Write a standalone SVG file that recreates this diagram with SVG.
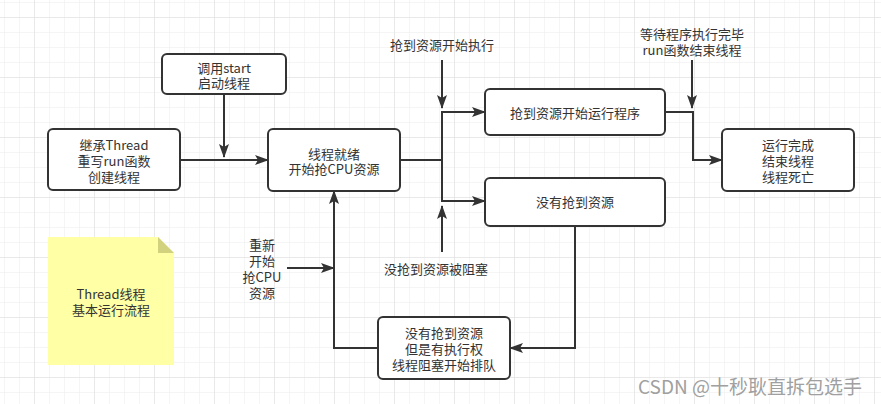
<svg xmlns="http://www.w3.org/2000/svg" width="881" height="404" viewBox="0 0 881 404">
  <defs>
    <pattern id="minor" x="4" y="2" width="15" height="15" patternUnits="userSpaceOnUse">
      <path d="M0,0 H15 M0,0 V15" stroke="#ececec" stroke-width="1" fill="none"/>
    </pattern>
    <pattern id="major" x="34" y="17" width="60" height="60" patternUnits="userSpaceOnUse">
      <path d="M0,0 H60 M0,0 V60" stroke="#dedede" stroke-width="1" fill="none"/>
    </pattern>
    <marker id="arr" viewBox="0 0 14 10" refX="13" refY="5" markerWidth="14" markerHeight="10" markerUnits="userSpaceOnUse" orient="auto">
      <path d="M0,0 L14,5 L0,10 L3,5 Z" fill="#333"/>
    </marker>
    <style>
      .box { fill: #fff; stroke: #333; stroke-width: 2; }
      .t { font-family: "Noto Sans CJK SC", "Liberation Sans", sans-serif; font-size: 13px; fill: #333; text-anchor: middle; dominant-baseline: central; }
      .c { fill: none; stroke: #333; stroke-width: 2; marker-end: url(#arr); }
    </style>
  </defs>
  <rect width="881" height="404" fill="#fff"/>
  <rect width="881" height="404" fill="url(#minor)"/>
  <rect width="881" height="404" fill="url(#major)"/>

  <g id="connectors">
    <path class="c" d="M180,160 L268,160"/>
    <path class="c" d="M224,94 L224,157"/>
    <path class="c" d="M400,160 L442,160 L442,112 L485,112"/>
    <path class="c" d="M442,160 L442,201 L485,201"/>
    <path class="c" d="M442,60 L442,108"/>
    <path class="c" d="M442,252 L442,206"/>
    <path class="c" d="M665,112 L693,112 L693,160 L722,160"/>
    <path class="c" d="M692,60 L692,108"/>
    <path class="c" d="M575,226 L575,348 L510,348"/>
    <path class="c" d="M378,348 L334,348 L334,191"/>
    <path class="c" d="M287,268 L334,268"/>
  </g>

  <g id="n-inherit">
    <rect class="box" x="48" y="129" width="132" height="61" rx="5"/>
    <text class="t" x="114" y="144">继承Thread</text>
    <text class="t" x="114" y="160">重写run函数</text>
    <text class="t" x="114" y="176">创建线程</text>
  </g>
  <g id="n-start">
    <rect class="box" x="162" y="54" width="124" height="40" rx="5"/>
    <text class="t" x="224" y="67">调用start</text>
    <text class="t" x="224" y="82">启动线程</text>
  </g>
  <g id="n-ready">
    <rect class="box" x="268" y="129" width="132" height="62" rx="5"/>
    <text class="t" x="334" y="153">线程就绪</text>
    <text class="t" x="334" y="168">开始抢CPU资源</text>
  </g>
  <g id="n-run">
    <rect class="box" x="485" y="89" width="180" height="46" rx="5"/>
    <text class="t" x="575" y="112">抢到资源开始运行程序</text>
  </g>
  <g id="n-miss">
    <rect class="box" x="485" y="178" width="180" height="48" rx="5"/>
    <text class="t" x="575" y="201">没有抢到资源</text>
  </g>
  <g id="n-dead">
    <rect class="box" x="722" y="129" width="132" height="62" rx="5"/>
    <text class="t" x="788" y="144">运行完成</text>
    <text class="t" x="788" y="160">结束线程</text>
    <text class="t" x="788" y="176">线程死亡</text>
  </g>
  <g id="n-queue">
    <rect class="box" x="378" y="317" width="132" height="62" rx="5"/>
    <text class="t" x="444" y="332">没有抢到资源</text>
    <text class="t" x="444" y="348">但是有执行权</text>
    <text class="t" x="444" y="364">线程阻塞开始排队</text>
  </g>
  <g id="n-note">
    <path d="M48,237 L158,237 L174,253 L174,365 L48,365 Z" fill="#ffffa6"/>
    <path d="M158,237 L174,253 L158,253 Z" fill="#d2d27e"/>
    <text class="t" x="111" y="293">Thread线程</text>
    <text class="t" x="111" y="309">基本运行流程</text>
  </g>

  <g id="labels">
    <text class="t" x="442" y="44">抢到资源开始执行</text>
    <text class="t" x="692" y="33">等待程序执行完毕</text>
    <text class="t" x="692" y="49">run函数结束线程</text>
    <text class="t" x="262" y="244">重新</text>
    <text class="t" x="262" y="260">开始</text>
    <text class="t" x="262" y="276">抢CPU</text>
    <text class="t" x="262" y="292">资源</text>
    <text class="t" x="436" y="268">没抢到资源被阻塞</text>
  </g>
  <text x="750" y="385" font-family="Noto Sans CJK SC, Liberation Sans, sans-serif" font-size="19" fill="#a0a0a0" text-anchor="middle" dominant-baseline="central">CSDN @十秒耿直拆包选手</text>
</svg>
